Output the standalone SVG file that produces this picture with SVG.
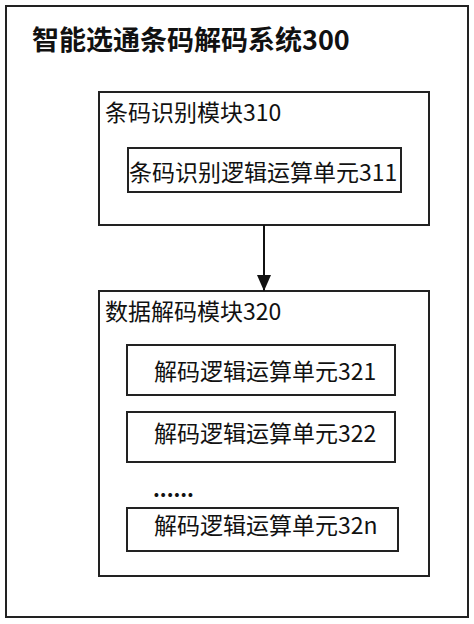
<svg xmlns="http://www.w3.org/2000/svg" width="474" height="624" viewBox="0 0 474 624">
<defs>
<style>
.box{fill:#fff;stroke:#222;stroke-width:2}
.t{font-family:"Noto Sans CJK SC","Noto Sans",sans-serif;font-size:23px;fill:#111}
.title{font-family:"Noto Sans CJK SC","Noto Sans",sans-serif;font-size:27px;font-weight:bold;fill:#111}
.conn{stroke:#111;stroke-width:2;fill:none}
</style>
<marker id="arr" markerWidth="16" markerHeight="14" refX="16" refY="7" orient="auto" markerUnits="userSpaceOnUse">
<path d="M0,0 L16,7 L0,14 Z" fill="#111"/>
</marker>
</defs>
<g id="system300">
<rect class="box" x="6" y="6" width="462" height="611"/>
<text class="title" x="32" y="50">智能选通条码解码系统300</text>
</g>
<g id="module310">
<rect class="box" x="99" y="92" width="330" height="133"/>
<text class="t" x="105" y="121">条码识别模块310</text>
</g>
<g id="unit311">
<rect class="box" x="128" y="148" width="273" height="44"/>
<text class="t" x="129" y="181">条码识别逻辑运算单元311</text>
</g>
<g id="module320">
<rect class="box" x="99" y="291" width="330" height="285"/>
<text class="t" x="105" y="320">数据解码模块320</text>
</g>
<g id="unit321">
<rect class="box" x="127" y="345" width="268" height="50"/>
<text class="t" x="154" y="380">解码逻辑运算单元321</text>
</g>
<g id="unit322">
<rect class="box" x="127" y="412" width="268" height="50"/>
<text class="t" x="154" y="442">解码逻辑运算单元322</text>
</g>
<g id="ellipsis">
<text class="title" x="153" y="497" style="font-size:21px">......</text>
</g>
<g id="unit32n">
<rect class="box" x="127" y="508" width="271" height="43"/>
<text class="t" x="154" y="534">解码逻辑运算单元32n</text>
</g>
<g id="connectors">
<line class="conn" x1="264" y1="225" x2="264" y2="291" marker-end="url(#arr)"/>
</g>
</svg>
